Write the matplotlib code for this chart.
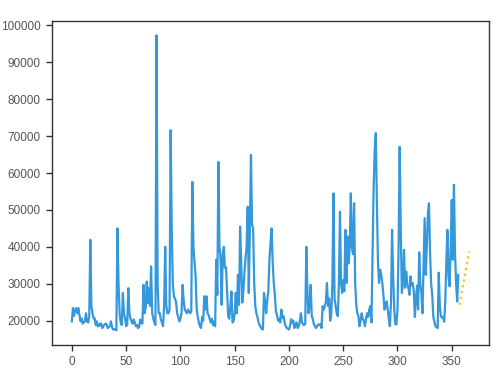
import numpy as np
import matplotlib
matplotlib.use('Agg')
import matplotlib.pyplot as plt

# observed series (one value per step)
observed = [
    19800, 23400, 21300, 23000, 23400, 22000, 23400, 21500, 19800, 20600,
    19200, 19500, 19800, 22000, 19800, 19500, 21000, 41900, 24000, 22000,
    20600, 20600, 18800, 19800, 18500, 18500, 19200, 19200, 18000, 18500,
    18900, 19200, 19000, 18000, 18300, 18500, 19800, 18200, 17600, 17700,
    17600, 17400, 45000, 30000, 22000, 19500, 18800, 27500, 22000, 20600,
    18500, 19000, 28800, 22000, 20600, 19800, 19200, 20300, 19500, 18500,
    18800, 18000, 18300, 20300, 19500, 19200, 29700, 22000, 23500, 30600,
    24800, 28800, 24000, 34700, 22000, 20600, 19500, 18800, 97300, 30000,
    22000, 22000, 20300, 19500, 18500, 24000, 40000, 24000, 22000, 22000,
    23000, 71600, 45000, 30000, 26600, 26000, 25000, 22000, 21000, 19800,
    20500, 22000, 29700, 25500, 23000, 22500, 22000, 23000, 22500, 22000,
    22500, 57600, 40000, 36000, 32000, 23000, 21000, 19500, 18500, 18000,
    21000, 20000, 26600, 23000, 26600, 22000, 21500, 20500, 19500, 20500,
    18800, 19800, 18500, 36500, 27000, 63000, 40000, 37000, 24300, 38000,
    40000, 34300, 34500, 28000, 21200, 20500, 24000, 27900, 19500, 20000,
    22000, 27500, 22000, 32400, 24300, 45500, 36000, 24900, 28000, 33000,
    37000, 40000, 50900, 27500, 45000, 64900, 46000, 45100, 30000, 23900,
    22000, 21000, 19500, 18800, 18200, 17800, 17600, 27500, 25000, 22000,
    25600, 28000, 36500, 41000, 45000, 36000, 30200, 27000, 22500, 21500,
    20000, 20500, 19500, 23000, 20700, 21200, 19500, 18500, 18000, 17800,
    17600, 18500, 20400, 19500, 20000, 18000, 19000, 19500, 18000, 18500,
    19800, 22000, 19500, 19000, 18800, 19200, 40000, 28000, 22000, 24000,
    29700, 21200, 20500, 19000, 18500, 18000, 18500, 19000, 18800, 19000,
    18000, 23900, 23000, 24000, 25000, 30200, 24000, 26000, 20000, 22000,
    30000, 54500, 26000, 24000, 22000, 21200, 30000, 49500, 30000, 27500,
    31000, 28000, 44600, 30200, 42800, 35500, 40000, 54500, 40000, 38000,
    51800, 30200, 24300, 22000, 21200, 18500, 20000, 22000, 20500, 20000,
    18500, 20500, 22000, 21000, 23000, 24000, 19500, 38500, 56000, 66000,
    70800, 52000, 36000, 30200, 33800, 32500, 30200, 27000, 23000, 24000,
    25200, 23000, 20500, 18500, 25000, 44600, 32000, 23000, 19000, 19000,
    23000, 40000, 67100, 45000, 27500, 30000, 39200, 28900, 33300, 30000,
    28900, 27000, 32000, 29500, 30200, 28000, 21000, 26000, 29500, 23000,
    38500, 30000, 27500, 22000, 35000, 47750, 32400, 40000, 49000, 51800,
    38500, 30000, 27000, 21000, 19700, 18500, 18200, 18000, 33000, 24000,
    21200, 20800, 21000, 19700, 25000, 36000, 44600, 32000, 29300, 40000,
    52700, 36500, 56800, 38300, 30000, 25200, 32400,
]

# forecast continuation
forecast = [24300, 25900, 27500, 29100, 30700, 32300, 33900, 35500, 37100, 38700]

x_obs = np.arange(len(observed))
x_fc = np.arange(len(observed), len(observed) + len(forecast))

plt.rcParams['font.family'] = ['Liberation Sans', 'DejaVu Sans']

fig = plt.figure(figsize=(5, 3.68), dpi=100)
ax = fig.add_axes([0.104, 0.0625, 0.874, 0.8815])

ax.plot(x_obs, observed, color='#3498db', linewidth=1.6)
ax.plot(x_fc, forecast, color='#f1c40f', linewidth=1.6, linestyle=':')

ax.set_xticks([0, 50, 100, 150, 200, 250, 300, 350])
ax.set_yticks([20000, 30000, 40000, 50000, 60000, 70000, 80000, 90000, 100000])

for sp in ax.spines.values():
    sp.set_color('#333333')
    sp.set_linewidth(1.0)
ax.tick_params(axis='both', direction='out', length=4, width=1, color='#333333',
               labelcolor='#555555', labelsize=8.5, pad=4)

fig.savefig('out.png', dpi=100)
